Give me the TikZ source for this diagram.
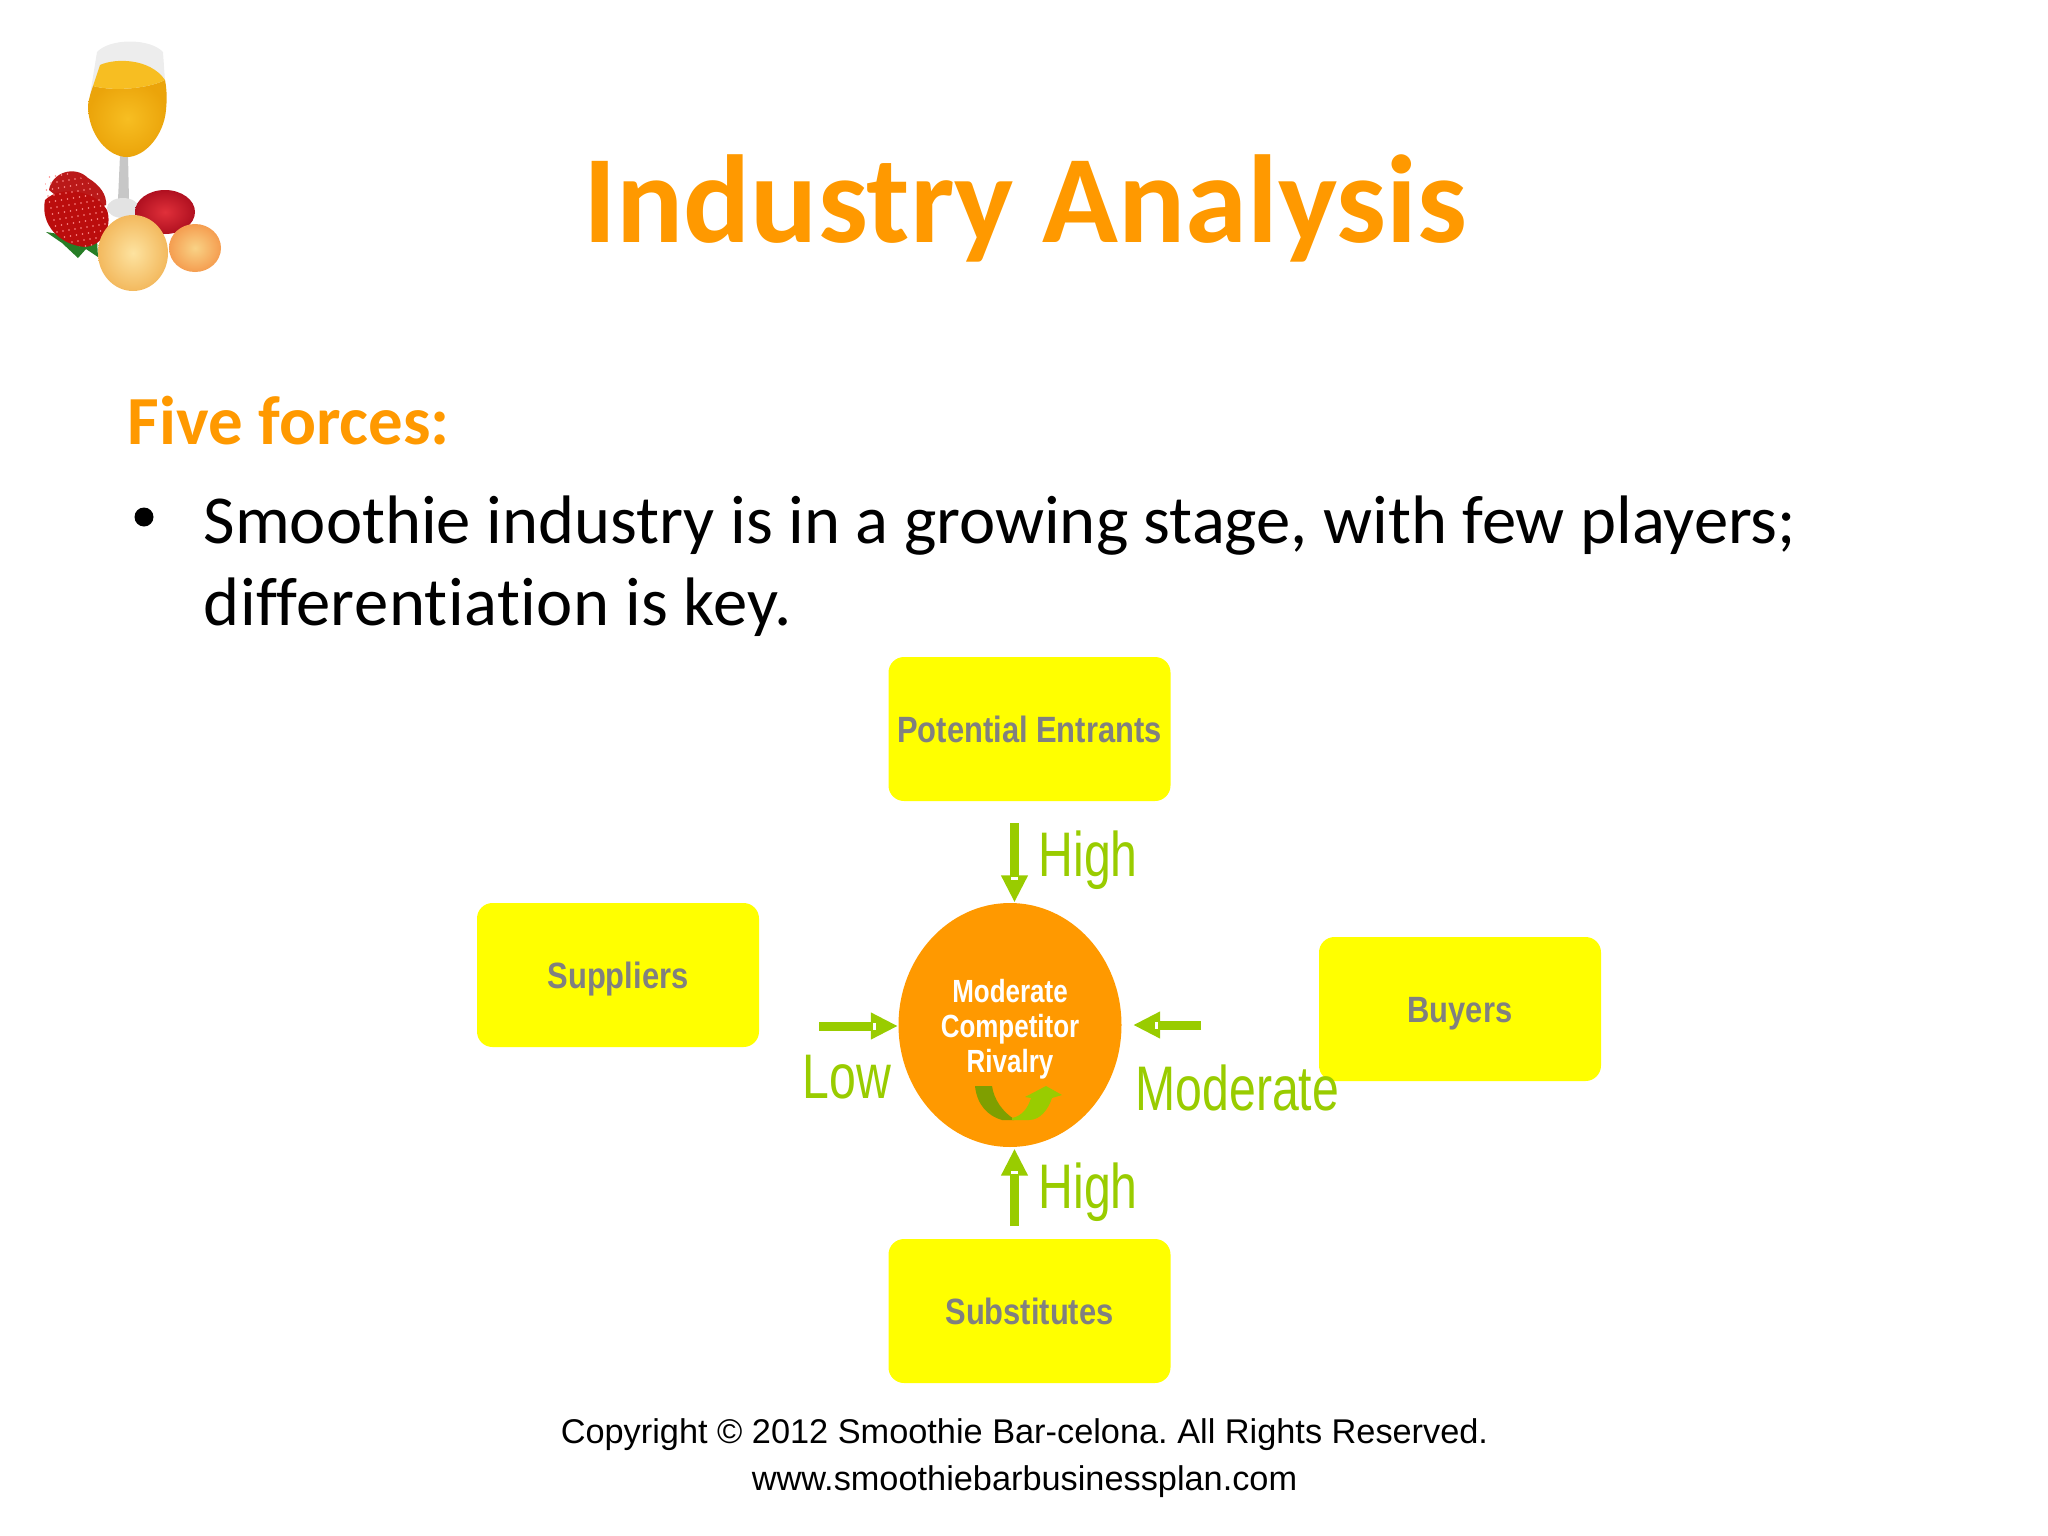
\documentclass[tikz,border=0pt]{standalone}
\usepackage{fontspec}
\setmainfont[Ligatures=NoCommon]{Carlito}
\newfontfamily\arialfont{Liberation Sans}
\newfontfamily\boxfont[FakeStretch=0.845]{Liberation Sans}
\newfontfamily\ratefont[FakeStretch=0.765]{Liberation Sans}
\newfontfamily\circlefont[FakeStretch=0.81]{Liberation Sans}
\usetikzlibrary{arrows.meta,shapes.geometric}
\definecolor{titleorange}{HTML}{FF9900}
\definecolor{forcegreen}{HTML}{99CC00}
\definecolor{darkband}{HTML}{7F9F00}
\definecolor{boxgrey}{HTML}{808080}
\definecolor{boxyellow}{HTML}{FFFF00}
\definecolor{juicelight}{HTML}{F7BE22}
\definecolor{juicedark}{HTML}{EBA40A}
\definecolor{peachlight}{HTML}{FDE3A0}
\definecolor{peachdark}{HTML}{F3B95E}
\definecolor{plumlight}{HTML}{E0303A}
\definecolor{plumdark}{HTML}{B01020}
\tikzset{
  forcebox/.style={fill=boxyellow,rounded corners=15.5*0.0125cm,minimum width=282*0.0125cm,minimum height=144*0.0125cm,inner sep=0pt,text=boxgrey,text height=9.3pt,text depth=0pt,font=\boxfont\bfseries\fontsize{13pt}{15pt}\selectfont},
  force/.style={draw=forcegreen,line width=9*0.0125cm,-{Triangle[length=27*0.0125cm,width=25*0.0125cm,fill=forcegreen]}},
  rate/.style={text=forcegreen,inner sep=0pt,anchor=base west,font=\ratefont\fontsize{22.4pt}{26pt}\selectfont},
  inside/.style={inner sep=0pt,anchor=base,text=white,font=\circlefont\bfseries\fontsize{11.4pt}{14pt}\selectfont},
  body/.style={inner sep=0pt,anchor=base west,font=\fontsize{24.4pt}{28pt}\selectfont},
  footer/.style={inner sep=0pt,anchor=base,font=\arialfont\frenchspacing\fontsize{12.2pt}{15pt}\selectfont},
}
\begin{document}
\begin{tikzpicture}[x=0.0125cm,y=-0.0125cm]
\useasboundingbox (0,0) rectangle (2048,1536);
% fruit picture
\fill[black!22] (120,155) -- (128,155) -- (129,200) -- (118,200) -- cycle;
\fill[black!11] (123,208) ellipse (16 and 10);
\fill[black!7] (97,52) .. controls (110,38) and (150,38) .. (163,52) -- (166,95) -- (90,95) -- cycle;
\shade[inner color=juicelight,outer color=juicedark] (88,105) .. controls (89,98) and (91,92) .. (93,86) .. controls (115,92) and (150,88) .. (165,80) .. controls (167,90) and (167,100) .. (166,110) .. controls (164,135) and (145,157) .. (127,157) .. controls (108,157) and (88,135) .. (88,105) -- cycle;
\fill[juicelight] (100,65) .. controls (115,58) and (150,58) .. (165,80) .. controls (150,88) and (115,92) .. (93,86) -- cycle;
\fill[green!40!black!85] (46,232) -- (62,243) -- (78,258) -- (86,249) -- (98,257) -- (97,240) -- cycle;
\fill[red!70!black!90] (49,190) .. controls (52,172) and (75,165) .. (88,178) .. controls (100,185) and (107,195) .. (106,205) -- (80,215) -- cycle;
\fill[red!72!black!95] (45,200) .. controls (60,185) and (95,190) .. (107,210) .. controls (112,225) and (105,245) .. (85,247) .. controls (60,245) and (40,225) .. (45,200) -- cycle;
\begin{scope}
\clip (45,175) .. controls (60,165) and (95,175) .. (107,210) .. controls (112,225) and (105,245) .. (85,247) .. controls (60,245) and (40,225) .. (45,200) -- cycle;
\foreach \i in {0,...,11}
  \foreach \j in {0,...,13}
    \fill[red!45!white] (42+\i*6+\j*1.5,172+\j*6-\i*1) circle (.9);
\end{scope}
\shade[inner color=plumlight,outer color=plumdark] (165,212) ellipse (30 and 22);
\shade[inner color=peachlight,outer color=peachdark] (133,253) ellipse (35 and 38);
\shade[inner color=peachlight!60!peachdark,outer color=peachdark!85!red] (195,248) ellipse (26 and 24);
% title and text
\node[inner sep=0pt,anchor=base,text=titleorange,font=\bfseries\fontsize{44.5pt}{50pt}\selectfont] (title) at (1025,242) {Industry Analysis};
\node[body,text=titleorange,font=\bfseries\fontsize{24.5pt}{28pt}\selectfont] (forces) at (127,444) {Five forces:};
\fill (144,517) circle (9.5);
\node[body] (lineone) at (203,543) {Smoothie industry is in a growing stage, with few players;};
\node[body] (linetwo) at (203,625) {\addfontfeature{LetterSpace=0.6}differentiation is key.};
% five forces
\node[forcebox] (entrants) at (1029.5,729) {Potential Entrants};
\node[forcebox] (suppliers) at (618,975) {Suppliers};
\node[forcebox] (buyers) at (1460,1009) {Buyers};
\node[forcebox] (substitutes) at (1029.5,1311) {Substitutes};
\node[ellipse,fill=titleorange,minimum width=223*0.0125cm,minimum height=244*0.0125cm,inner sep=0pt] (rivalry) at (1010,1025) {};
\node[inside] (moderate) at (1010,1002) {Moderate};
\node[inside] (competitor) at (1010,1037) {Competitor};
\node[inside] (rivalrytext) at (1010,1072) {Rivalry};
\coordinate (fromtop) at (1014.5,823);
\coordinate (fromleft) at (819,1026);
\coordinate (fromright) at (1201,1025);
\coordinate (frombottom) at (1014.5,1226);
\draw[force] (fromtop) -- (fromtop |- rivalry.north);
\draw[force] (fromleft) -- (fromleft -| rivalry.west);
\draw[force,shorten >=11*0.0125cm] (fromright) -- (fromright -| rivalry.east);
\draw[force,shorten >=0.0125cm] (frombottom) -- (frombottom |- rivalry.south);
\fill[white] (1011,877) rectangle (1018,880);
\fill[white] (873,1022.5) rectangle (876,1029.5);
\fill[white] (1155,1021.5) rectangle (1158,1028.5);
\fill[white] (1011,1171) rectangle (1018,1174);
\node[rate] (ratetop) at (1038,876) {High};
\node[rate] (rateleft) at (802,1098) {Low};
\node[rate] (rateright) at (1135,1110) {Moderate};
\node[rate] (ratebottom) at (1038,1208) {High};
% swirl arrow
\fill[darkband] (975,1086) -- (992,1086) .. controls (994,1100) and (1003,1112) .. (1014,1119) -- (1014,1120) -- (1002,1120) .. controls (988,1116) and (977,1105) .. (975,1086) -- cycle;
\fill[forcegreen] (1012,1118) .. controls (1022,1116) and (1028,1108) .. (1031,1098) -- (1025,1097) -- (1046,1086) -- (1062,1095) -- (1052,1098) .. controls (1048,1110) and (1040,1120) .. (1029,1120) -- (1012,1120) -- cycle;
% footer
\node[footer] (copyright) at (1024.5,1443.5) {Copyright © 2012 Smoothie Bar-celona. All Rights Reserved.};
\node[footer] (website) at (1024.5,1490) {www.smoothiebarbusinessplan.com};
\end{tikzpicture}
\end{document}
